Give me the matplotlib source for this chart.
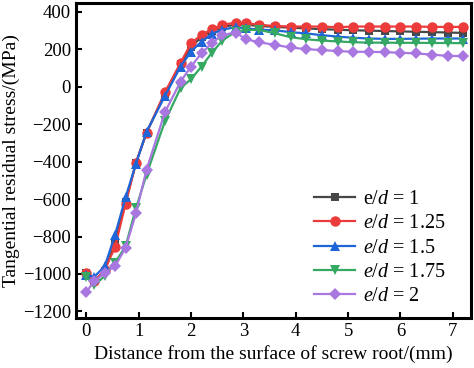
import matplotlib
matplotlib.use("Agg")
import matplotlib.pyplot as plt

plt.rcParams['font.family'] = ['Liberation Serif', 'DejaVu Serif']
plt.rcParams['mathtext.fontset'] = 'custom'
plt.rcParams['mathtext.rm'] = 'Liberation Serif'
plt.rcParams['mathtext.it'] = 'Liberation Serif:italic'

x = [0, 0.15, 0.35, 0.55, 0.75, 0.95, 1.15, 1.5, 1.8, 2.0, 2.2, 2.4, 2.6, 2.85, 3.05,
     3.3, 3.6, 3.9, 4.2, 4.5, 4.8, 5.1, 5.4, 5.7, 6.0, 6.3, 6.6, 6.9, 7.2]

ed1 = [-995, -1035, -985, -830, -615, -405, -245, -40, 120, 215, 265, 300, 320, 332, 332,
       325, 320, 316, 312, 308, 305, 302, 300, 298, 296, 294, 292, 290, 288]
ed125 = [-995, -1040, -980, -855, -625, -405, -245, -30, 128, 232, 278, 308, 331, 343, 340,
         331, 325, 322, 322, 322, 318, 322, 322, 322, 322, 322, 320, 320, 320]
ed15 = [-1005, -1015, -960, -790, -590, -410, -240, -50, 108, 188, 242, 283, 306, 318, 313,
        305, 302, 292, 285, 276, 268, 262, 258, 256, 256, 257, 258, 258, 258]
ed175 = [-1015, -1060, -1012, -940, -852, -647, -469, -185, -7, 41, 108, 183, 247, 295, 304,
         304, 286, 265, 254, 247, 242, 238, 236, 236, 235, 235, 234, 234, 233]
ed2 = [-1095, -1040, -995, -958, -860, -674, -443, -137, 28, 108, 180, 233, 277, 290, 254,
       238, 224, 210, 201, 196, 191, 187, 187, 185, 182, 178, 172, 165, 164]

labels = [r'e/$d$ = 1', r'$e/d$ = 1.25', r'$e/d$ = 1.5', r'$e/d$ = 1.75', r'$e/d$ = 2']
colors = ['#474747', '#ec3b3b', '#1e66d8', '#35a862', '#a877e0']
markers = ['s', 'o', '^', 'v', 'D']
msizes = [6, 7.5, 7, 7, 6]
series = [ed1, ed125, ed15, ed175, ed2]

fig = plt.figure(figsize=(4.74, 3.68), dpi=100)
ax = fig.add_axes([0.160, 0.136, 0.834, 0.856])

for ys, lab, c, m, ms in zip(series, labels, colors, markers, msizes):
    ax.plot(x, ys, color=c, marker=m, markersize=ms, linewidth=1.6, label=lab,
            markeredgewidth=0)

ax.set_xlim(-0.2, 7.35)
ax.set_ylim(-1235, 448)
ax.set_xticks(range(0, 8))
ax.set_yticks(range(-1200, 401, 200))
ax.tick_params(direction='in', length=4, width=1.5, labelsize=13.5)
for s in ax.spines.values():
    s.set_linewidth(2.2)
ax.set_xlabel('Distance from the surface of screw root/(mm)', fontsize=14, labelpad=4)
ax.set_ylabel('Tangential residual stress/(MPa)', fontsize=14, labelpad=2)

leg = ax.legend(loc='lower right', bbox_to_anchor=(0.965, 0.0), frameon=False,
                fontsize=14.5, handlelength=2.0, handletextpad=0.4, labelspacing=0.25,
                borderaxespad=0.2)

fig.savefig('out.png', dpi=100)
